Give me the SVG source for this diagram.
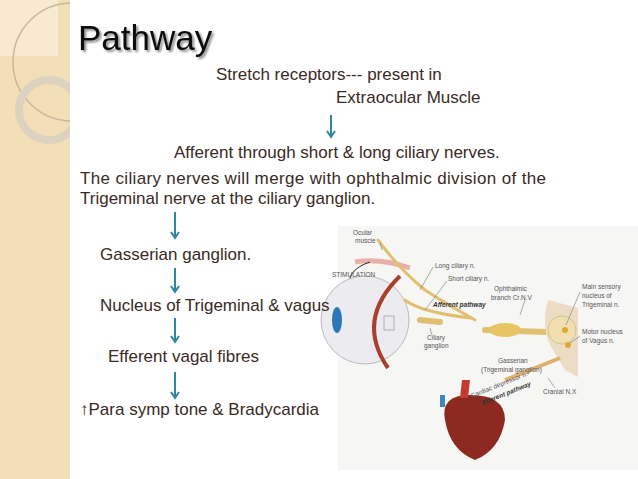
<svg xmlns="http://www.w3.org/2000/svg" width="638" height="479" viewBox="0 0 638 479">
<defs>
<marker id="ah" markerWidth="10" markerHeight="10" refX="8" refY="5" orient="auto" markerUnits="userSpaceOnUse"><path d="M2,1 L8,5 L2,9" fill="none" stroke="#2e86a0" stroke-width="2"/></marker>
<filter id="sh"><feDropShadow dx="2" dy="2" stdDeviation="1.2" flood-color="#000" flood-opacity="0.45"/></filter>
<clipPath id="sc"><rect x="0" y="0" width="70" height="479"/></clipPath>
</defs>
<style>
.t{font-family:"Liberation Sans",Arial,sans-serif;font-size:17px;fill:#3a2a24}
.s{font-family:"Liberation Sans",Arial,sans-serif;font-size:6.5px;fill:#555}
.sb{font-family:"Liberation Sans",Arial,sans-serif;font-size:6.5px;fill:#333;font-weight:bold;font-style:italic}
.ar{stroke:#2e86a0;stroke-width:2;fill:none;marker-end:url(#ah)}
.nv{fill:none;stroke:#e0c070;stroke-linecap:round}
.ld{fill:none;stroke:#777;stroke-width:0.6}
</style>
<rect width="638" height="479" fill="#fff"/>
<g id="sidebar" clip-path="url(#sc)">
<rect x="0" y="0" width="70" height="479" fill="#f2dfb8"/>
<rect x="0" y="0" width="58" height="56" fill="#f7ead0"/>
<circle cx="72" cy="62" r="59" fill="none" stroke="#c8b79a" stroke-width="1.5"/>
<circle cx="49" cy="110" r="30" fill="none" stroke="#dcd2c0" stroke-width="8"/>
</g>
<g id="illustration">
<rect x="338" y="226" width="300" height="244" fill="#f6f6f4"/>
<path d="M355,262 Q380,258 410,268" stroke="#e8b0a8" stroke-width="5" fill="none"/>
<path d="M350,290 Q345,270 370,262" stroke="#222" stroke-width="1" fill="none"/>
<circle cx="365" cy="320" r="44" fill="#ececf0" stroke="#bbb"/>
<ellipse cx="337" cy="320" rx="5" ry="13" fill="#2a78b8"/>
<rect x="384" y="316" width="10" height="14" fill="none" stroke="#888" stroke-width="0.6"/>
<path d="M400,276 Q355,320 388,368" stroke="#a8402e" stroke-width="4" fill="none"/>
<path class="nv" stroke-width="3" d="M378,240 Q400,270 425,290 Q440,300 475,320"/>
<path class="nv" stroke-width="3" d="M405,300 Q420,312 470,318"/>
<path class="nv" stroke-width="6" d="M420,320 L440,322"/>
<path class="nv" stroke-width="6" d="M485,330 L545,332"/>
<ellipse cx="505" cy="330" rx="16" ry="7" fill="#e8c465"/>
<path d="M548,300 L578,308 L578,377 L565,370 L553,350 Q540,330 548,300Z" fill="#ecdcc4"/>
<circle cx="562" cy="330" r="14" fill="#f0e0b0" stroke="#d8c090"/>
<circle cx="565" cy="330" r="3" fill="#e0a830"/>
<circle cx="568" cy="345" r="3" fill="#e0a830"/>
<path d="M560,358 L505,380" stroke="#e0b070" stroke-width="4"/>
<path d="M445,420 Q440,395 470,395 Q505,395 505,420 Q500,450 475,460 Q450,450 445,420Z" fill="#8c2a22"/>
<path d="M460,398 L462,380 L470,380 L468,398Z" fill="#c23a30"/>
<rect x="440" y="395" width="5" height="12" fill="#3a8ac0"/>
<text class="s" x="353" y="235">Ocular</text><text class="s" x="355" y="243">muscle</text>
<text class="s" x="332" y="277">STIMULATION</text>
<text class="s" x="435" y="268">Long ciliary n.</text>
<text class="s" x="448" y="281">Short ciliary n.</text>
<text class="s" x="494" y="291">Ophthalmic</text><text class="s" x="491" y="300">branch Cr.N.V</text>
<text class="sb" x="433" y="307">Afferent pathway</text>
<text class="s" x="427" y="340">Ciliary</text><text class="s" x="424" y="348">ganglion</text>
<text class="s" x="498" y="363">Gasserian</text><text class="s" x="481" y="372">(Trigeminal ganglion)</text>
<text class="s" x="582" y="289">Main sensory</text><text class="s" x="582" y="298">nucleus of</text><text class="s" x="582" y="307">Trigeminal n.</text>
<text class="s" x="582" y="334">Motor nucleus</text><text class="s" x="582" y="343">of Vagus n.</text>
<text class="s" x="543" y="394">Cranial N.X</text>
<text class="s" transform="translate(472,398) rotate(-22)">Cardiac depressor n.</text>
<text class="sb" transform="translate(483,405) rotate(-22)">Efferent pathway</text>
<path class="ld" d="M380,243 L382,250 M433,267 L420,290 M447,281 L425,310 M525,300 L520,315 M580,292 L566,325 M580,336 L570,343 M555,388 L548,378 M432,335 L430,328"/>
</g>
<text x="78" y="50" font-family="Liberation Sans,Arial,sans-serif" font-size="35" fill="#111" filter="url(#sh)">Pathway</text>
<g id="texts">
<text class="t" x="216" y="80">Stretch receptors--- present in</text>
<text class="t" x="336" y="103">Extraocular Muscle</text>
<text class="t" x="174" y="158">Afferent through short &amp; long ciliary nerves.</text>
<text class="t" x="80" y="184" textLength="466">The ciliary nerves will merge with ophthalmic division of the</text>
<text class="t" x="80" y="204">Trigeminal nerve  at the ciliary ganglion.</text>
<text class="t" x="100" y="260">Gasserian ganglion.</text>
<text class="t" x="100" y="311">Nucleus of Trigeminal &amp; vagus</text>
<text class="t" x="108" y="362">Efferent vagal fibres</text>
<text class="t" x="80" y="415">↑Para symp tone &amp; Bradycardia</text>
</g>
<g id="connectors">
<line class="ar" x1="331" y1="115" x2="331" y2="137"/>
<line class="ar" x1="175" y1="212" x2="175" y2="238"/>
<line class="ar" x1="175" y1="268" x2="175" y2="292"/>
<line class="ar" x1="175" y1="318" x2="175" y2="342"/>
<line class="ar" x1="175" y1="372" x2="175" y2="398"/>
</g>
</svg>
